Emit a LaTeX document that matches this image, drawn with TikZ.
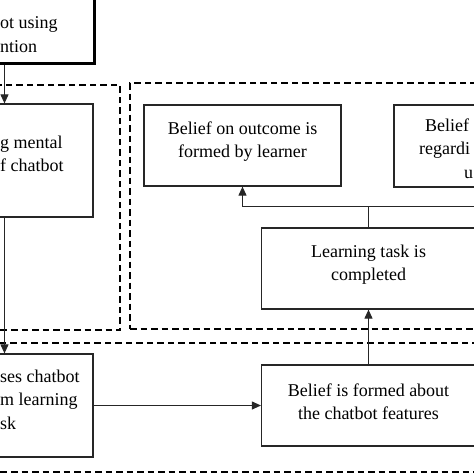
\documentclass[tikz,border=0pt]{standalone}
\usepackage{fontspec}
\setmainfont{Liberation Serif}
\usetikzlibrary{arrows.meta}
\begin{document}
\begin{tikzpicture}[x=1pt,y=-1pt,
  txt/.style={font=\fontsize{18}{23.5}\selectfont,align=center,inner sep=0pt},
  box/.style={draw=black!85,line width=1.2pt,inner sep=0pt},
  thickbox/.style={draw=black,line width=3pt,inner sep=0pt},
  frag/.style={inner sep=0pt,anchor=base west,font=\fontsize{18}{23.5}\selectfont},
  group/.style={draw=black,line width=1.7pt,dash pattern=on 6.5pt off 4pt,inner sep=0pt},
  arr/.style={draw=black!85,line width=1pt,-{Triangle[length=9pt,width=8pt]}},
  con/.style={draw=black!85,line width=1pt}]
\useasboundingbox (0,0) rectangle (474,474);
\clip (0,0) rectangle (474,474);
% dashed groups
\node[group,minimum width=130pt,minimum height=245pt] (gl) at (55,207.5) {};
\node[group,minimum width=360pt,minimum height=246pt] (gr) at (310,206) {};
\node[group,minimum width=500pt,minimum height=129pt] (gb) at (240,407.5) {};
% boxes
\node[thickbox,minimum width=194pt,minimum height=73pt] (top) at (-3,26.5) {};
\node[box,minimum width=193pt,minimum height=113pt] (mental) at (-3.5,160.5) {};
\node[box,minimum width=193pt,minimum height=103pt] (bl) at (-3.5,405.5) {};
\node[box,minimum width=197pt,minimum height=81pt,
  label={[txt,yshift=4pt]center:Belief on outcome is\\formed by learner}] (outcome) at (242.5,145.5) {};
\node[box,minimum width=190pt,minimum height=82pt] (regard) at (489,146) {};
\node[box,minimum width=214pt,minimum height=81pt,
  label={[txt,yshift=4pt]center:Learning task is\\completed}] (lt) at (368.5,268.5) {};
\node[box,minimum width=214pt,minimum height=81pt,
  label={[txt,yshift=4pt]center:Belief is formed about\\the chatbot features}] (bf) at (368.5,405.5) {};
% clipped text fragments
\node[frag] (t1) at (0,28) {ot using};
\node[frag] (t2) at (0,52) {ntion};
\node[frag] (m1) at (0,148) {g mental};
\node[frag] (m2) at (0,171.5) {f chatbot};
\node[frag] (b1) at (0,382) {ses chatbot};
\node[frag] (b2) at (0,405.5) {m learning};
\node[frag] (b3) at (0,429) {sk};
\node[frag] (r1) at (425,131) {Belief};
\node[frag] (r2) at (419,154.5) {regardi};
\node[frag] (r3) at (464,178) {u};
% connectors
\coordinate (cx) at (4.5,0);
\draw[arr] (top.south -| cx) -- (mental.north -| cx);
\draw[arr] (mental.south -| cx) -- (bl.north -| cx);
\draw[arr] (bl.east) -- (bf.west);
\draw[arr] (bf.north) -- (lt.south);
\draw[con] (lt.north) -- ++(0,-21) coordinate (j);
\draw[arr] (j) -| (outcome.south);
\draw[arr] (j) -| (regard.south);
\end{tikzpicture}
\end{document}
